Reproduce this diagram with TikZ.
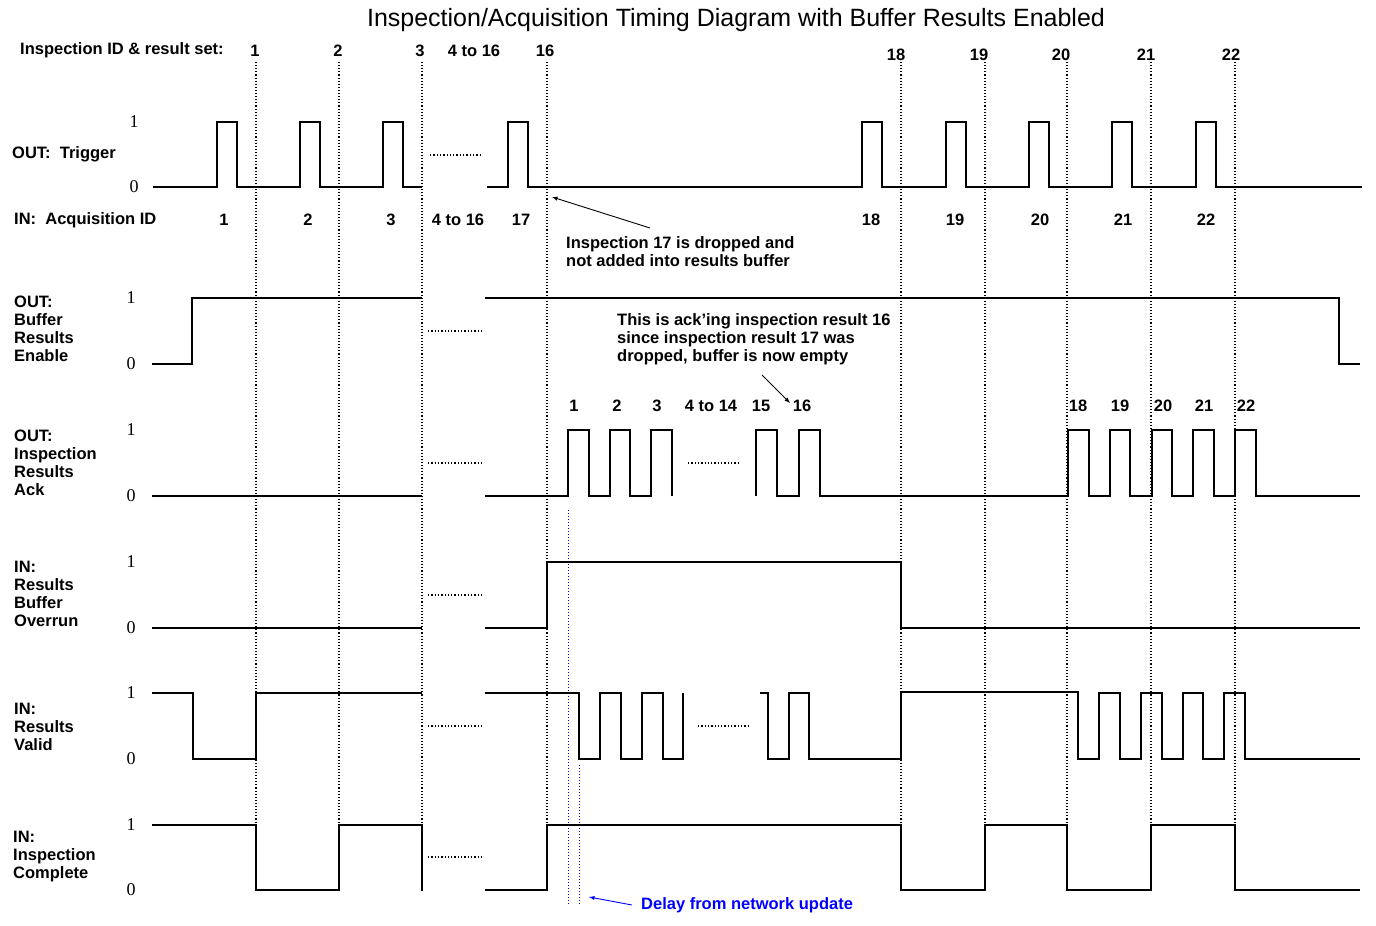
\documentclass[tikz,border=0pt]{standalone}
\usepackage{fontspec}
\setmainfont{Liberation Sans}
\newfontfamily\serifnum{Liberation Serif}
\begin{document}
\begin{tikzpicture}[x=1pt,y=-1pt,
  sig/.style={line width=1.8pt},
  grid/.style={line width=1.1pt,dotted},
  bgrid/.style={line width=1.0pt,dotted,blue},
  lbl/.style={font=\fontsize{16.5}{18}\selectfont\bfseries,anchor=west,inner sep=0pt,align=left},
  num/.style={font=\fontsize{16.5}{18}\selectfont\bfseries,inner sep=0pt},
  lvl/.style={font=\fontsize{18}{18}\serifnum,inner sep=0pt},
  gapdots/.style={line width=1.3pt,dotted}]
\useasboundingbox (0,0) rectangle (1376,926);
\node[font=\fontsize{25}{28}\selectfont,inner sep=0pt] (title) at (736,20) {Inspection/Acquisition Timing Diagram with Buffer Results Enabled};
% grid lines
\foreach \x in {256,339,422,547,901,985,1067,1151,1235}
  \draw[grid] (\x,62) -- (\x,890);
\draw[bgrid] (568,510) -- (568,905);
\draw[bgrid] (579,765) -- (579,905);
% top labels
\node[lbl] (hdr) at (20,50) {Inspection ID \& result set:};
\foreach \x/\t in {255/1,338/2,420/3,474/4 to 16,545/16}
  \node[num] at (\x,51) {\t};
\foreach \x/\t in {896/18,979/19,1061/20,1146/21,1231/22}
  \node[num] at (\x,55) {\t};
% trigger
\node[lbl] (trig) at (12,154) {OUT:\ \ Trigger};
\node[lvl] at (134,122) {1}; \node[lvl] at (134,187) {0};
\draw[sig] (153,187) -- (217,187) -- (217,122) -- (237,122) -- (237,187) -- (300,187) -- (300,122) -- (320,122) -- (320,187) -- (383,187) -- (383,122) -- (403,122) -- (403,187) -- (422,187);
\draw[sig] (487,187) -- (508,187) -- (508,122) -- (528,122) -- (528,187) -- (862,187) -- (862,122) -- (882,122) -- (882,187)
  -- (946,187) -- (946,122) -- (966,122) -- (966,187) -- (1029,187) -- (1029,122) -- (1049,122) -- (1049,187)
  -- (1112,187) -- (1112,122) -- (1132,122) -- (1132,187) -- (1196,187) -- (1196,122) -- (1216,122) -- (1216,187) -- (1362,187);
\draw[gapdots] (430,155) -- (482,155);
% acquisition id
\node[lbl] (acq) at (14,220) {IN:\ \ Acquisition ID};
\foreach \x/\t in {224/1,308/2,391/3,458/4 to 16,521/17,871/18,955/19,1040/20,1123/21,1206/22}
  \node[num] at (\x,220) {\t};
\node[lbl] (note1) at (566,252) {Inspection 17 is dropped and\\not added into results buffer};
\draw[-latex,line width=0.9pt] (650,228) -- (552,197);
% buffer enable
\node[lbl] (ben) at (14,329) {OUT:\\Buffer\\Results\\Enable};
\node[lvl] at (131,298) {1}; \node[lvl] at (131,364) {0};
\draw[sig] (152,364) -- (192,364) -- (192,298) -- (422,298);
\draw[sig] (485,298) -- (1339,298) -- (1339,364) -- (1360,364);
\draw[gapdots] (428,331) -- (481,331);
\node[lbl] (note2) at (617,339) {This is ack’ing inspection result 16\\since inspection result 17 was\\dropped, buffer is now empty};
\draw[-latex,line width=0.9pt] (762,375) -- (790,403);
% ack
\node[lbl] (ack) at (14,463) {OUT:\\Inspection\\Results\\Ack};
\node[lvl] at (131,430) {1}; \node[lvl] at (131,496) {0};
\foreach \x/\t in {574/1,617/2,657/3,711/4 to 14,761/15,802/16,1078/18,1120/19,1163/20,1204/21,1246/22}
  \node[num] at (\x,406) {\t};
\draw[sig] (152,496) -- (422,496);
\draw[sig] (485,496) -- (568,496) -- (568,430) -- (589,430) -- (589,496) -- (610,496) -- (610,430) -- (630,430) -- (630,496) -- (651,496) -- (651,430) -- (672,430) -- (672,496);
\draw[sig] (756,496) -- (756,430) -- (777,430) -- (777,496) -- (799,496) -- (799,430) -- (820,430) -- (820,496) -- (1068,496)
  -- (1068,430) -- (1089,430) -- (1089,496) -- (1110,496) -- (1110,430) -- (1130,430) -- (1130,496)
  -- (1152,496) -- (1152,430) -- (1172,430) -- (1172,496) -- (1193,496) -- (1193,430) -- (1214,430) -- (1214,496)
  -- (1235,496) -- (1235,430) -- (1256,430) -- (1256,496) -- (1360,496);
\draw[gapdots] (428,463) -- (481,463);
\draw[gapdots] (688,463) -- (740,463);
% overrun
\node[lbl] (ovr) at (14,594) {IN:\\Results\\Buffer\\Overrun};
\node[lvl] at (131,562) {1}; \node[lvl] at (131,628) {0};
\draw[sig] (152,628) -- (422,628);
\draw[sig] (485,628) -- (547,628) -- (547,562) -- (901,562) -- (901,628) -- (1360,628);
\draw[gapdots] (428,595) -- (481,595);
% valid
\node[lbl] (val) at (14,727) {IN:\\Results\\Valid};
\node[lvl] at (131,693) {1}; \node[lvl] at (131,759) {0};
\draw[sig] (152,693) -- (193,693) -- (193,759) -- (256,759) -- (256,693) -- (422,693);
\draw[sig] (485,693) -- (579,693) -- (579,759) -- (600,759) -- (600,693) -- (621,693) -- (621,759) -- (642,759) -- (642,693) -- (663,693) -- (663,759) -- (683,759) -- (683,693);
\draw[sig] (760,693) -- (768,693) -- (768,759) -- (789,759) -- (789,693) -- (809,693) -- (809,759) -- (901,759) -- (901,692)
  -- (1078,692) -- (1078,759) -- (1099,759) -- (1099,693) -- (1120,693) -- (1120,759) -- (1141,759) -- (1141,693)
  -- (1162,693) -- (1162,759) -- (1183,759) -- (1183,693) -- (1203,693) -- (1203,759) -- (1224,759) -- (1224,693)
  -- (1245,693) -- (1245,759) -- (1360,759);
\draw[gapdots] (428,726) -- (481,726);
\draw[gapdots] (698,726) -- (750,726);
% complete
\node[lbl] (cmp) at (13,857) {IN:\\Inspection\\Complete};
\node[lvl] at (131,825) {1}; \node[lvl] at (131,890) {0};
\draw[sig] (152,825) -- (256,825) -- (256,890) -- (339,890) -- (339,825) -- (422,825) -- (422,890);
\draw[sig] (485,890) -- (547,890) -- (547,825) -- (901,825) -- (901,890) -- (985,890) -- (985,825) -- (1067,825) -- (1067,890)
  -- (1151,890) -- (1151,825) -- (1235,825) -- (1235,890) -- (1360,890);
\draw[gapdots] (428,857) -- (481,857);
\node[lbl,text=blue] (delay) at (641,905) {Delay from network update};
\draw[-latex,line width=0.9pt,blue] (632,905) -- (589,897);
\end{tikzpicture}
\end{document}
